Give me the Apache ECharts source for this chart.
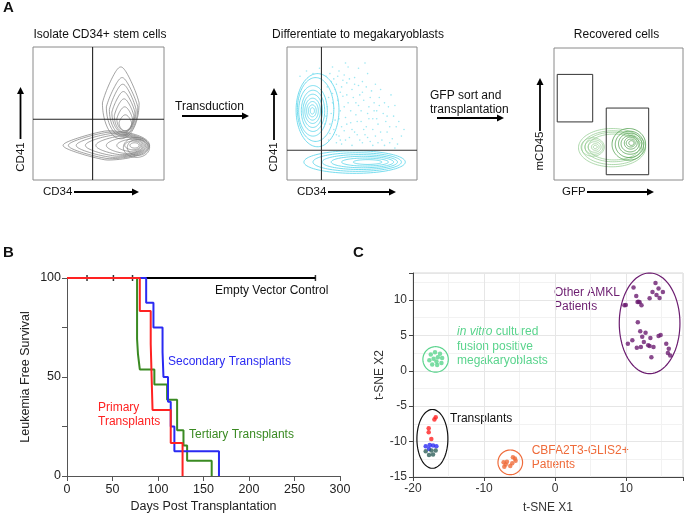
<!DOCTYPE html>
<html>
<head>
<meta charset="utf-8">
<script src="https://cdn.jsdelivr.net/npm/echarts@6/dist/echarts.min.js"></script>
<style>
  html, body { margin: 0; padding: 0; background: #fff; }
  #chart { width: 685px; height: 516px; }
</style>
</head>
<body>
<div id="chart"></div>
<script>
// ---- panel A: flow plots, axes are 0-100 (% of plot)
// contour rings: [cx, cy, rx, ry, narrowTop, narrowLeft]
const cd34Rings = [
  [56, 26, 33, 11, 0, 0.5],
  [57.5, 26, 30.5, 10, 0, 0.45],
  [60, 26, 27, 9, 0, 0.4],
  [63, 26, 23, 8, 0, 0.35],
  [66.5, 26, 18.5, 7, 0, 0.3],
  [70, 26, 14, 6, 0, 0.25],
  [73.5, 26, 9.5, 4.5, 0, 0.2],
  [76, 26, 6, 3.3, 0, 0.1],
  [77.5, 26, 3.5, 2, 0, 0],
  [79, 24.5, 10, 7.5, 0, 0],
  [80, 24.5, 8, 6, 0, 0],
  [67, 58, 14, 27, 0.5, 0],
  [68, 55, 12, 22, 0.5, 0],
  [68.5, 53, 10.2, 19, 0.45, 0],
  [69, 51, 8.8, 15.5, 0.45, 0],
  [69.5, 48.5, 7.4, 12.5, 0.4, 0],
  [70, 46, 6, 9, 0.35, 0],
  [70.5, 43, 4.8, 6, 0.3, 0]
];
const cd34Gates = [[45.5, 0, 45.5, 100], [0, 45.7, 100, 45.7]];

const mkRings = [
  [23.5, 52.5, 16.5, 27.5, 0, 0],
  [22, 53, 14, 24, 0, 0],
  [20, 52, 11, 19, 0, 0],
  [20, 52, 9, 15.5, 0, 0],
  [19.8, 52, 7.5, 12.5, 0, 0],
  [19.7, 52, 6, 9.5, 0, 0],
  [19.6, 52, 4.5, 7, 0, 0],
  [19.5, 52, 3, 4.5, 0, 0],
  [19.5, 52, 1.6, 2.4, 0, 0],
  [52, 13.5, 39, 8.5, 0, 0],
  [54, 13.5, 34, 7, 0, 0],
  [56, 13.5, 29, 5.6, 0, 0],
  [58, 13.5, 24, 4.3, 0, 0],
  [60, 13.5, 18, 3, 0, 0],
  [62, 13.5, 11, 1.8, 0, 0]
];
const mkDots = [
  [30,78],[33,80],[36,76],[40,82],[44,79],[47,85],[52,77],[38,72],[42,70],[46,73],
  [50,68],[55,71],[58,74],[62,80],[65,67],[35,65],[39,60],[43,63],[47,58],[51,62],
  [55,56],[59,60],[63,55],[67,58],[71,62],[74,50],[31,55],[34,50],[37,45],[41,52],
  [45,47],[49,43],[53,49],[57,44],[61,40],[66,46],[70,42],[78,55],[82,48],[36,38],
  [40,33],[44,37],[48,32],[52,36],[56,30],[60,34],[64,29],[68,33],[73,30],[77,36],
  [81,31],[85,27],[32,30],[38,28],[29,42],[33,35],[58,66],[62,50],[69,52],[76,44],
  [45,88],[55,84],[20,80],[15,82],[10,78],[25,84],[68,72],[72,68],[80,64],[84,40],
  [88,33],[50,26],[42,27],[35,85],[60,88],
  [31,70],[34,74],[37,68],[39,78],[41,66],[43,75],[44,55],[46,64],[48,76],[49,52],
  [52,72],[53,58],[54,44],[56,64],[57,52],[59,38],[61,70],[63,46],[64,62],[66,38],
  [67,52],[69,46],[71,56],[72,36],[75,58],[77,48],[79,40],[83,56],[86,44],[90,38],
  [33,42],[35,58],[40,46],[42,40],[46,42],[50,38],[54,34],[58,28],[62,32],[66,26],
  [70,28],[75,26],[79,28],[83,24],[30,48],[32,62],[36,54],[38,34],[41,30],[45,30]
];
const mkGates = [[26.5, 0, 26.5, 100], [0, 22.4, 100, 22.4]];

const gfpRingsLight = [
  [45, 24.5, 26, 14.5, 0, 0],
  [45.5, 24.5, 24, 12.8, 0, 0],
  [46, 25, 22, 11.2, 0, 0],
  [46.5, 25, 20, 9.8, 0, 0],
  [30, 25, 9, 7, 0, 0],
  [31, 25, 7, 5.5, 0, 0],
  [31.5, 25, 5, 4, 0, 0],
  [32, 25, 3, 2.5, 0, 0],
  [32, 25, 1.5, 1.2, 0, 0]
];
const gfpRingsDark = [
  [58, 27, 13, 12, 0, 0],
  [58.5, 27, 11, 10, 0, 0],
  [59, 27.5, 9, 8, 0, 0],
  [59, 27.5, 7, 6.2, 0, 0],
  [59.5, 28, 5, 4.6, 0, 0],
  [59.5, 28, 3.5, 3, 0, 0],
  [60, 28, 2, 1.8, 0, 0]
];
const gfpGates = [[2.5, 44, 30, 80], [40.5, 4, 73.4, 54.5]];

// ---- panel B: leukemia free survival (%), [day, survival]
const emptyVector = [[0, 100], [273, 100]];
const primary = [[0, 100], [80, 83.3], [92, 66.7], [94, 33.3], [114, 16.7], [127, 0]];
const secondary = [[0, 100], [87, 87.5], [95, 75], [105, 62.5], [106, 50], [111, 37.5], [114, 25], [118, 12.5], [167, 0]];
const tertiary = [[0, 100], [77, 69.2], [78, 61.5], [80, 53.8], [96, 46.2], [110, 38.5], [121, 23.1], [128, 15.4], [132, 7.7], [159, 0]];
const censored = [[22, 100], [51, 100], [72, 100], [273, 100]];

// ---- panel C: t-SNE
const amkl = [
  [11.04, 11.74], [11.42, 10.55], [11.6, 9.7], [11.75, 9.75], [11.9, 9.68], [12.16, 9.24],
  [9.75, 9.24], [9.95, 9.3], [14.13, 12.39], [13.71, 11.12], [14.56, 11.6], [15.17, 11.12],
  [14.27, 10.7], [14.7, 10.27], [13.3, 10.25],
  [11.64, 6.85], [11.98, 5.58], [12.73, 5.35], [12.26, 4.8], [13.41, 4.64], [14.56, 4.9],
  [14.85, 5.05], [10.87, 4.29], [10.24, 3.82], [12.49, 4.05], [13.1, 3.6], [13.3, 3.5],
  [11.5, 3.25], [12.07, 3.34], [13.85, 3.34], [15.64, 3.82], [16.0, 3.11], [15.87, 2.49],
  [16.2, 2.16], [13.55, 1.9]
];
const inVitro = [
  [-17.5, 2.3], [-16.9, 2.6], [-16.2, 2.4], [-15.9, 1.8], [-16.0, 1.1], [-16.6, 0.8],
  [-17.3, 0.9], [-17.7, 1.5], [-17.1, 1.7], [-16.5, 1.9], [-16.7, 1.3]
];
const transRed = [[-16.8, -6.56], [-16.99, -6.89], [-17.79, -8.12], [-17.79, -8.68], [-17.42, -9.62]];
const transBlue = [[-18.21, -10.66], [-17.65, -10.47], [-17.18, -10.57], [-16.71, -10.66], [-17.75, -11.03]];
const transTeal = [[-18.21, -11.37], [-17.41, -11.27], [-16.81, -11.27], [-17.75, -11.88], [-17.18, -11.84]];
const glis2 = [
  [-7.25, -12.93], [-6.96, -13.25], [-7.15, -13.54], [-6.78, -12.83], [-5.94, -12.22],
  [-5.66, -12.4], [-5.56, -12.69], [-6.03, -13.07], [-6.31, -13.44]
];
// cluster outlines: [cx, cy, rx, ry]
const tsneRings = [[13.3, 6.7, 4.27, 7.1], [-16.82, 1.6, 1.79, 1.8], [-17.27, -9.62, 2.18, 4.15], [-6.31, -12.93, 1.73, 1.74]];
const ringColors = ['#6c1d70', '#5ad48d', '#111111', '#ef6b3a'];

const FONT = "'Liberation Sans', Arial, sans-serif";

function ringItem(colorOf, width) {
  return function (params, api) {
    const c = api.coord([api.value(0), api.value(1)]);
    const s = api.size([api.value(2), api.value(3)]);
    const p = api.value(4) || 0;
    const q = api.value(5) || 0;
    const pts = [];
    for (let i = 0; i < 90; i++) {
      const t = i / 90 * Math.PI * 2;
      const up = Math.sin(t), right = Math.cos(t);
      const w = 1 - p * Math.max(up, 0);      // taper the upper half
      const h = 1 - q * Math.max(-right, 0);  // taper the left half
      pts.push([c[0] + s[0] * right * w, c[1] - s[1] * up * h]);
    }
    return {
      type: 'polygon', silent: true,
      shape: { points: pts },
      style: { fill: 'none', stroke: colorOf(params.dataIndex), lineWidth: width }
    };
  };
}

function segItem(color) {
  return function (params, api) {
    const a = api.coord([api.value(0), api.value(1)]);
    const b = api.coord([api.value(2), api.value(3)]);
    return { type: 'line', silent: true, shape: { x1: a[0], y1: a[1], x2: b[0], y2: b[1] }, style: { stroke: color, lineWidth: 1.1 } };
  };
}

function rectItem(color) {
  return function (params, api) {
    const a = api.coord([api.value(0), api.value(3)]);
    const b = api.coord([api.value(2), api.value(1)]);
    return { type: 'rect', silent: true, shape: { x: a[0], y: a[1], width: b[0] - a[0], height: b[1] - a[1] }, style: { fill: 'none', stroke: color, lineWidth: 1 } };
  };
}

function flowAxis(i) {
  return { gridIndex: i, type: 'value', min: 0, max: 100, show: false };
}

function txt(text, x, y, o) {
  o = o || {};
  return {
    type: 'text', x: x, y: y, rotation: o.rot || 0, silent: true,
    style: {
      text: text, fill: o.color || '#111', fontSize: o.size || 12, fontFamily: FONT,
      fontWeight: o.bold ? 'bold' : 'normal',
      align: o.align || 'left', textAlign: o.align || 'left',
      verticalAlign: 'middle', textVerticalAlign: 'middle',
      rich: o.rich
    }
  };
}

function arrow(x1, y1, x2, y2) {
  const ang = Math.atan2(y2 - y1, x2 - x1);
  const L = 7, W = 3.5;
  const bx = x2 - L * Math.cos(ang), by = y2 - L * Math.sin(ang);
  return [
    { type: 'line', silent: true, shape: { x1: x1, y1: y1, x2: bx, y2: by }, style: { stroke: '#000', lineWidth: 1.8 } },
    { type: 'polygon', silent: true, shape: { points: [[x2, y2], [bx - W * Math.sin(ang), by + W * Math.cos(ang)], [bx + W * Math.sin(ang), by - W * Math.cos(ang)]] }, style: { fill: '#000' } }
  ];
}

const chart = echarts.init(document.getElementById('chart'), null, { renderer: 'canvas' });

const blue = '#2a2af2', red = '#ff2222', green = '#3a8a22';
const purple = '#6c1d70', lgreen = '#5ad48d', orange = '#ef6b3a';

const graphics = [
  txt('A', 3, 8, { bold: true, size: 15 }),
  txt('B', 3, 253, { bold: true, size: 15 }),
  txt('C', 353, 253, { bold: true, size: 15 }),
  txt('Isolate CD34+ stem cells', 100, 35, { align: 'center' }),
  txt('Differentiate to megakaryoblasts', 358, 35, { align: 'center' }),
  txt('Recovered cells', 616.5, 35, { align: 'center' }),
  txt('Transduction', 175, 107),
  txt('GFP sort and', 430, 96),
  txt('transplantation', 430, 109.5),
  txt('CD41', 20.5, 157, { rot: Math.PI / 2, align: 'center', size: 11.5 }),
  txt('CD41', 274, 157, { rot: Math.PI / 2, align: 'center', size: 11.5 }),
  txt('mCD45', 540, 151, { rot: Math.PI / 2, align: 'center', size: 11.5 }),
  txt('CD34', 43, 192, { size: 11.5 }),
  txt('CD34', 297, 192, { size: 11.5 }),
  txt('GFP', 562, 192, { size: 11.5 }),
  ...arrow(20.5, 139, 20.5, 87),
  ...arrow(74, 192, 139, 192),
  ...arrow(274, 140, 274, 88),
  ...arrow(328, 192, 396, 192),
  ...arrow(540, 131, 540, 78),
  ...arrow(587, 192, 654, 192),
  ...arrow(182, 116, 249, 116),
  ...arrow(437, 118, 504, 118),
  txt('Empty Vector Control', 215, 291),
  txt('Secondary Transplants', 168, 362, { color: blue }),
  txt('Primary', 98, 408, { color: red }),
  txt('Transplants', 98, 422, { color: red }),
  txt('Tertiary Transplants', 189, 435, { color: green }),
  txt('Other AMKL', 554, 292.5, { color: purple }),
  txt('Patients', 554, 306.7, { color: purple }),
  txt('{i|in vitro} cultured', 457, 332, { color: lgreen, rich: { i: { fontStyle: 'italic', fill: lgreen, fontSize: 12, fontFamily: FONT } } }),
  txt('fusion positive', 457, 346.5, { color: lgreen }),
  txt('megakaryoblasts', 457, 361, { color: lgreen }),
  txt('Transplants', 450, 419),
  txt('CBFA2T3-GLIS2+', 531.7, 451, { color: orange }),
  txt('Patients', 531.7, 465, { color: orange })
];

const stepLine = (data, color, z) => ({
  type: 'line', xAxisIndex: 3, yAxisIndex: 3, data: data, step: 'end',
  symbol: 'none', lineStyle: { color: color, width: 2 }, z: z, silent: true
});

const dots = (data, color) => ({
  type: 'scatter', xAxisIndex: 4, yAxisIndex: 4, data: data,
  symbolSize: 4.5, itemStyle: { color: color }, silent: true, z: 4
});

const option = {
  animation: false,
  textStyle: { fontFamily: FONT },
  grid: [
    { left: 33, top: 47, width: 131, height: 133, show: true, borderColor: '#8a8a8a', borderWidth: 1, outerBoundsMode: 'none' },
    { left: 287, top: 47, width: 130, height: 133, show: true, borderColor: '#8a8a8a', borderWidth: 1, outerBoundsMode: 'none' },
    { left: 554, top: 48, width: 129, height: 132, show: true, borderColor: '#8a8a8a', borderWidth: 1, outerBoundsMode: 'none' },
    { left: 67, top: 278, width: 273, height: 198, outerBoundsMode: 'none' },
    { left: 413, top: 273, width: 270, height: 204, show: true, borderColor: '#d6d6d6', borderWidth: 1, outerBoundsMode: 'none' }
  ],
  xAxis: [
    flowAxis(0), flowAxis(1), flowAxis(2),
    {
      gridIndex: 3, type: 'value', min: 0, max: 300, interval: 50,
      axisLine: { show: true, onZero: false, lineStyle: { color: '#555' } },
      axisTick: { show: true, length: 5, lineStyle: { color: '#555' } },
      axisLabel: { fontSize: 12.5, color: '#222', margin: 7 },
      splitLine: { show: false },
      name: 'Days Post Transplantation', nameLocation: 'middle', nameGap: 24,
      nameTextStyle: { fontSize: 12.5, color: '#222' }
    },
    {
      gridIndex: 4, type: 'value', min: -20, max: 18, interval: 10, z: 1,
      axisLine: { show: true, onZero: false, lineStyle: { color: '#444' } },
      axisTick: { show: true, length: 4, lineStyle: { color: '#444' } },
      axisLabel: { fontSize: 12, color: '#333', margin: 6, formatter: v => (v % 10 === 0 ? String(v) : '') },
      splitLine: { show: true, lineStyle: { color: '#e6e6e6' } },
      name: 't-SNE X1', nameLocation: 'middle', nameGap: 25,
      nameTextStyle: { fontSize: 12, color: '#333' }
    },
    {
      gridIndex: 4, type: 'value', min: -20, max: 18, interval: 5, z: 0,
      axisLine: { show: false }, axisTick: { show: false }, axisLabel: { show: false },
      splitLine: { show: true, lineStyle: { color: '#f2f2f2' } }
    }
  ],
  yAxis: [
    flowAxis(0), flowAxis(1), flowAxis(2),
    {
      gridIndex: 3, type: 'value', min: 0, max: 100, interval: 50,
      axisLine: { show: true, onZero: false, lineStyle: { color: '#555' } },
      axisTick: { show: true, length: 5, lineStyle: { color: '#555' } },
      minorTick: { show: true, splitNumber: 2, length: 5, lineStyle: { color: '#555' } },
      axisLabel: { fontSize: 12.5, color: '#222', margin: 6 },
      splitLine: { show: false },
      name: 'Leukemia Free Survival', nameLocation: 'middle', nameGap: 35,
      nameTextStyle: { fontSize: 12.5, color: '#222' }
    },
    {
      gridIndex: 4, type: 'value', min: -15, max: 13.8, interval: 5, z: 1,
      axisLine: { show: true, onZero: false, lineStyle: { color: '#444' } },
      axisTick: { show: true, length: 4, lineStyle: { color: '#444' } },
      axisLabel: { fontSize: 12, color: '#333', margin: 6, formatter: v => (v % 5 === 0 ? String(v) : '') },
      splitLine: { show: true, lineStyle: { color: '#e6e6e6' } },
      name: 't-SNE X2', nameLocation: 'middle', nameGap: 21,
      nameTextStyle: { fontSize: 12, color: '#333' }
    },
    {
      gridIndex: 4, type: 'value', min: -15, max: 13.8, interval: 2.5, z: 0,
      axisLine: { show: false }, axisTick: { show: false }, axisLabel: { show: false },
      splitLine: { show: true, lineStyle: { color: '#f2f2f2' } }
    }
  ],
  graphic: { elements: graphics },
  series: [
    // A1
    { type: 'custom', xAxisIndex: 0, yAxisIndex: 0, data: cd34Rings, renderItem: ringItem(() => '#7a7a7a', 0.7) },
    { type: 'custom', xAxisIndex: 0, yAxisIndex: 0, data: cd34Gates, renderItem: segItem('#222') },
    // A2
    {
      type: 'scatter', xAxisIndex: 1, yAxisIndex: 1, data: mkDots, symbolSize: 1.6,
      itemStyle: { color: '#86e2f0' }, silent: true
    },
    { type: 'custom', xAxisIndex: 1, yAxisIndex: 1, data: mkRings, renderItem: ringItem(() => '#66d8ec', 0.9) },
    { type: 'custom', xAxisIndex: 1, yAxisIndex: 1, data: mkGates, renderItem: segItem('#333') },
    // A3
    { type: 'custom', xAxisIndex: 2, yAxisIndex: 2, data: gfpRingsLight, renderItem: ringItem(() => '#8cc88a', 0.7) },
    { type: 'custom', xAxisIndex: 2, yAxisIndex: 2, data: gfpRingsDark, renderItem: ringItem(() => '#4f9e4d', 0.8) },
    { type: 'custom', xAxisIndex: 2, yAxisIndex: 2, data: gfpGates, renderItem: rectItem('#333') },
    // B
    stepLine(emptyVector, '#000', 2),
    {
      type: 'scatter', xAxisIndex: 3, yAxisIndex: 3, data: censored, symbol: 'rect',
      symbolSize: [1.5, 6], itemStyle: { color: '#000' }, silent: true, z: 2
    },
    stepLine(tertiary, green, 3),
    stepLine(secondary, blue, 4),
    stepLine(primary, red, 5),
    // C
    dots(amkl, purple),
    dots(inVitro, lgreen),
    dots(transRed, red),
    dots(transBlue, blue),
    dots(transTeal, '#2e5f5a'),
    dots(glis2, orange),
    {
      type: 'custom', xAxisIndex: 4, yAxisIndex: 4, data: tsneRings, z: 3,
      renderItem: ringItem(i => ringColors[i], 1.2)
    }
  ]
};

chart.setOption(option);
</script>
</body>
</html>
